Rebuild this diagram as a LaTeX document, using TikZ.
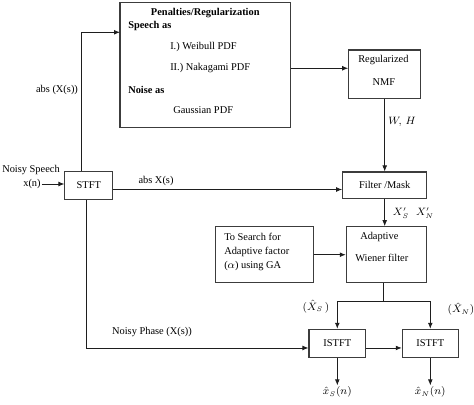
\documentclass[tikz,border=0pt]{standalone}
\usepackage{amsmath}
\usepackage{amssymb}
\usepackage{fontspec}
\setmainfont{Liberation Serif}
\usetikzlibrary{arrows.meta}

\begin{document}
\begin{tikzpicture}[x=0.75pt,y=0.75pt,yscale=-1,xscale=1,
        font=\fontsize{7.8}{9.4}\selectfont,
        box/.style={draw={rgb, 255:red, 60; green, 60; blue, 60 },line width=0.8pt,inner sep=0pt},
        txt/.style={inner sep=0.75pt},
        arr/.style={color={rgb, 255:red, 30; green, 30; blue, 30 },line width=0.6pt,-{Latex[length=4.5pt,width=3.6pt]}},
        wire/.style={color={rgb, 255:red, 30; green, 30; blue, 30 },line width=0.6pt}]
        \useasboundingbox (0,0) rectangle (474,404);

        %Shape: Rectangle (penalties)
        \node [box,minimum width=128pt,minimum height=93.75pt] (pen) at (205.3,65.2) {};
        %Shape: Rectangle (NMF)
        \node [box,minimum width=54pt,minimum height=36.5pt] (nmf) at (384.7,74.3) {};
        %Shape: Rectangle (STFT)
        \node [box,minimum width=35.8pt,minimum height=20.7pt] (stft) at (88.8,185.5) {STFT};
        %Shape: Rectangle (mask)
        \node [box,minimum width=63pt,minimum height=20pt] (mask) at (384.7,185.3) {Filter /Mask};
        %Shape: Rectangle (GA)
        \node [box,minimum width=73.2pt,minimum height=42pt] (ga) at (264.5,254.7) {};
        %Shape: Rectangle (Wiener)
        \node [box,minimum width=60.3pt,minimum height=42pt] (wien) at (386.5,254.7) {};
        %Shape: Rectangle (ISTFT)
        \node [box,minimum width=42.5pt,minimum height=21pt] (istS) at (337.3,343.3) {ISTFT};
        %Shape: Rectangle (ISTFT)
        \node [box,minimum width=42pt,minimum height=21pt] (istN) at (430.3,343.3) {ISTFT};

        % Text Node
        \node [txt] (penT) at (205.3,13) {\bfseries Penalties/Regularization};
        % Text Node
        \node [txt,anchor=west] (spA) at (127,26) {\bfseries Speech as};
        % Text Node
        \node [txt,anchor=west] (wei) at (169,47) {I.) Weibull PDF};
        % Text Node
        \node [txt,anchor=west] (nak) at (169,68) {II.) Nakagami PDF};
        % Text Node
        \node [txt,anchor=west] (noi) at (127,90) {\bfseries Noise as};
        % Text Node
        \node [txt,anchor=west] (gau) at (172,110) {Gaussian PDF};
        % Text Node
        \node [txt,anchor=west] (regT) at (357,60) {Regularized};
        % Text Node
        \node [txt] (nmfT) at (384,82) {NMF};
        % Text Node
        \node [txt,anchor=west] (gaA) at (223,237) {To Search for};
        % Text Node
        \node [txt,anchor=west] (gaB) at (223,252) {Adaptive factor};
        % Text Node
        \node [txt,anchor=west] (gaC) at (223,266) {($\alpha$) using GA};
        % Text Node
        \node [txt,anchor=west] (wiA) at (359,237) {Adaptive};
        % Text Node
        \node [txt,anchor=west] (wiB) at (354,258) {Wiener filter};
        % Text Node
        \node [txt] (nsp) at (31,170) {Noisy Speech};
        % Text Node
        \node [txt] (xin) at (32,184) {x(n)};
        % Text Node
        \node [txt] (absA) at (57,90) {abs (X(s))};
        % Text Node
        \node [txt] (absB) at (156,181) {abs X(s)};
        % Text Node
        \node [txt] (wh) at (402,122) {$W,\,H$};
        % Text Node
        \node [txt] (xpS) at (401,213) {$X'_S$};
        % Text Node
        \node [txt] (xpN) at (425,213) {$X'_N$};
        % Text Node
        \node [txt] (hS) at (316,306.7) {$(\hat{X}_S\,)$};
        % Text Node
        \node [txt] (hN) at (461,309) {$(\hat{X}_N)$};
        % Text Node
        \node [txt] (nph) at (152,332) {Noisy Phase (X(s))};
        % Text Node
        \node [txt] (xs) at (337.3,392) {$\hat{x}_S(n)$};
        % Text Node
        \node [txt] (xn) at (430.3,392) {$\hat{x}_N(n)$};

        \coordinate (penin) at (120,32.3);
        \coordinate (split) at (383.7,301.7);

        %Straight Lines
        \draw [arr] (xin.east) -- (xin.east -| stft.west);
        %Straight Lines
        \draw [arr] ([xshift=-5.6pt]stft.north) |- (penin);
        %Straight Lines
        \draw [arr] ([yshift=2.3pt]pen.east) -- ([yshift=2.3pt]pen.east -| nmf.west);
        %Straight Lines
        \draw [arr] (nmf.south) -- (nmf.south |- mask.north);
        %Straight Lines
        \draw [arr] ([yshift=3pt]stft.east) -- ([yshift=3pt]stft.east -| mask.west);
        %Straight Lines
        \draw [arr] (mask.south) -- (mask.south |- wien.north);
        %Straight Lines
        \draw [arr] (ga.east) -- (ga.east -| wien.west);
        %Straight Lines
        \draw [wire] (wien.south -| split) -- (split);
        \draw [arr] (split) -| (istS.north);
        \draw [arr] (split) -| (istN.north);
        %Straight Lines
        \draw [arr] ([xshift=-1.6pt]stft.south) |- ([yshift=3.5pt]istS.west);
        %Straight Lines
        \draw [arr] ([yshift=3.5pt]istS.east) -- ([yshift=3.5pt]istS.east -| istN.west);
        %Straight Lines
        \draw [arr] (istS.south) -- (xs.north);
        \draw [arr] (istN.south) -- (xn.north);

\end{tikzpicture}
\end{document}
